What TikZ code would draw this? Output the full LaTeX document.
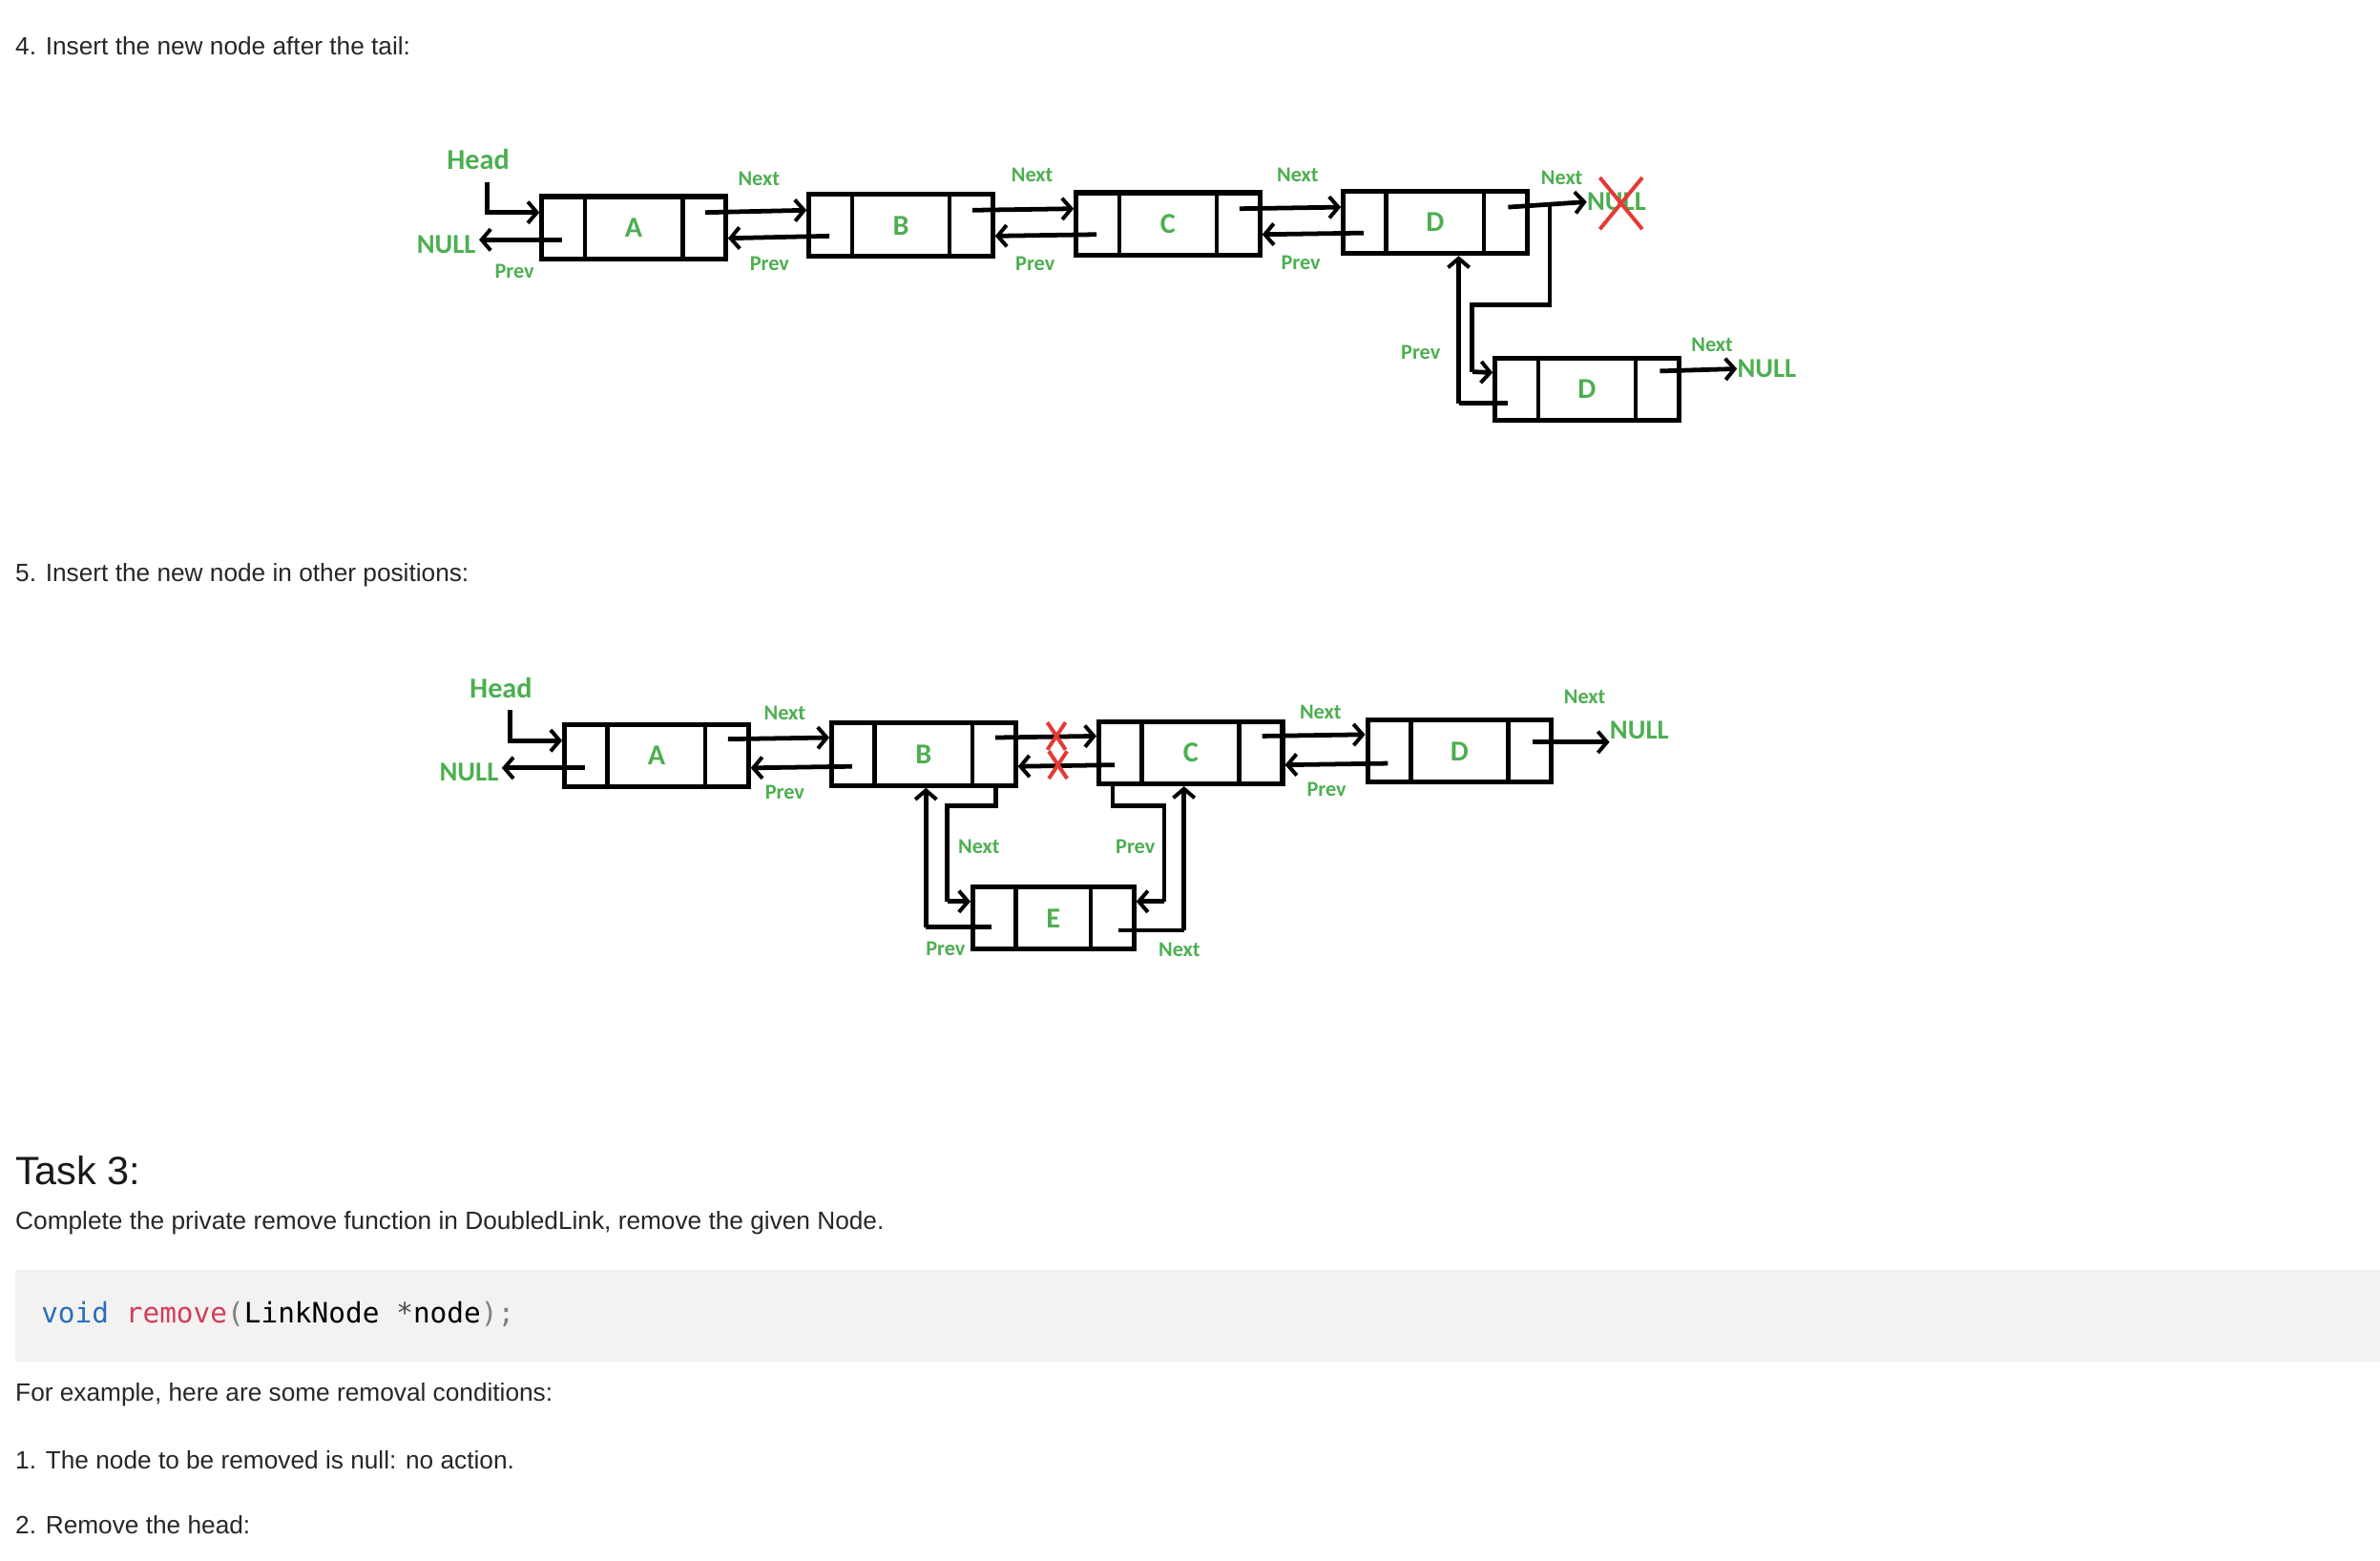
\documentclass[tikz,border=0pt]{standalone}
\usepackage{fontspec}
\setmainfont{Liberation Sans}
\newfontfamily\lab{Carlito}
\newfontfamily\codef{DejaVu Sans Mono}
\usetikzlibrary{arrows.meta,calc}
\definecolor{gr}{RGB}{76,175,80}
\definecolor{rd}{RGB}{229,57,53}
\definecolor{kwblue}{RGB}{42,110,187}
\definecolor{fnred}{RGB}{210,61,90}
\definecolor{codebg}{RGB}{243,242,241}
\tikzset{
 lbox/.style={draw,line width=3.2pt,inner sep=0pt,text=gr,font=\lab\fontsize{19}{19}\selectfont\bfseries},
 arr/.style={line width=3pt,-{Straight Barb[length=6pt,width=14pt,line width=2.5pt]}},
 ln/.style={line width=3pt},
 tg/.style={text=gr,font=\lab\fontsize{14}{14}\selectfont\bfseries,inner sep=0pt},
 tn/.style={text=gr,font=\lab\fontsize{19}{19}\selectfont\bfseries,inner sep=0pt},
 txt/.style={anchor=west,inner sep=0pt,font=\fontsize{16.5}{18}\selectfont,text=black!85},
 xr/.style={draw=rd,line width=2.5pt}
}
\newcommand\lnode[5]{%
 \node[lbox,minimum width=#5pt,minimum height=41pt] (#1) at (#2,#3) {#4};
 \draw[line width=3pt] ($(#1.north west)+(30,0)$) -- ($(#1.south west)+(30,0)$);
 \draw[line width=3pt] ($(#1.north east)+(-30,0)$) -- ($(#1.south east)+(-30,0)$);}
\newcommand\redx[3]{\draw[xr] ($(#1)+(-#2,-#3)$) -- ($(#1)+(#2,#3)$); \draw[xr] ($(#1)+(-#2,#3)$) -- ($(#1)+(#2,-#3)$);}
\begin{document}
\begin{tikzpicture}[x=1pt,y=-1pt]
\useasboundingbox (0,0) rectangle (1568,1028);
% texts
\node[txt] (t4) at (10,30) {4. Insert the new node after the tail:};
\node[txt] (t5) at (10,379) {5. Insert the new node in other positions:};
\node[txt,font=\fontsize{26}{28}\selectfont,text=black!90] (t3) at (10,771) {Task 3:};
\node[txt] (tc) at (10,806) {Complete the private remove function in DoubledLink, remove the given Node.};
\fill[codebg] (10,837) rectangle (1568,897);
\node[anchor=west,inner sep=0pt,font=\codef\fontsize{18.5}{20}\selectfont] (code) at (27,866) {\textcolor{kwblue}{void} \textcolor{fnred}{remove}\textcolor{black!50}{(}LinkNode \textcolor{black!70}{*}node\textcolor{black!50}{);}};
\node[txt] (te) at (10,919) {For example, here are some removal conditions:};
\node[txt] (t1) at (10,962) {1. The node to be removed is null: no action.};
\node[txt] (t2) at (10,1005) {2. Remove the head:};
% ===== diagram 1
\lnode{A}{417.5}{150}{A}{121}
\lnode{B}{593.5}{148.5}{B}{121}
\lnode{C}{769.5}{147.5}{C}{121}
\lnode{D}{945.5}{146.5}{D}{121}
\lnode{E}{1045.5}{256.5}{D}{121}
\node[tn] (h1) at (315,105) {Head};
\node[tn,font=\lab\fontsize{18}{18}\selectfont\bfseries] (n1) at (294,161) {NULL};
\coordinate (h1a) at (321,120);
\draw[arr] (h1a) |- ($(A.west)+(0,-10)$);
\draw[arr] ($(A.west)+(15,8)$) -- ($(n1.east)+(2,-3)$);
\node[tg] at (339,179) {Prev};
\foreach \p/\q/\nx/\ny/\px/\py in {A/B/500/118/507/174, B/C/680/115/682/174, C/D/855/115/857/173}{
 \draw[arr] ($(\p.east)+(-15,-10)$) -- ($(\q.west)+(0,-10)$);
 \draw[arr] ($(\q.west)+(15,7)$) -- ($(\p.east)+(0,7)$);
 \node[tg] at (\nx,\ny) {Next};
 \node[tg] at (\px,\py) {Prev};}
\node[tn,font=\lab\fontsize{18}{18}\selectfont\bfseries] (n2) at (1065,133) {NULL};
\draw[arr] ($(D.east)+(-14,-10)$) -- (n2.west);
\redx{1068,134}{14}{17}
\node[tg] at (1029,117) {Next};
\coordinate (d1) at (1021,136);
\draw[ln] (d1) -- (1021,201) -- (970,201) -- (970,245);
\draw[arr] (970,245) -- ($(E.west)+(0,-11)$);
\draw[ln] ($(E.west)+(10,9)$) -- (961,265.5);
\draw[arr] (961,266) -- (D.south -| 961,0);
\node[tg] at (936,232) {Prev};
\node[tn,font=\lab\fontsize{18}{18}\selectfont\bfseries] (n3) at (1164,243) {NULL};
\draw[arr] ($(E.east)+(-14,-12)$) -- (n3.west);
\node[tg] at (1128,227) {Next};
% ===== diagram 2
\lnode{A2}{432.5}{498}{A}{121}
\lnode{B2}{608.5}{497}{B}{121}
\lnode{C2}{784.5}{496}{C}{121}
\lnode{D2}{961.5}{495}{D}{121}
\lnode{E2}{694}{605}{E}{106}
\node[tn] (h2) at (330,453) {Head};
\node[tn,font=\lab\fontsize{18}{18}\selectfont\bfseries] (n4) at (309,509) {NULL};
\coordinate (h2a) at (336,468);
\draw[arr] (h2a) |- ($(A2.west)+(0,-10)$);
\draw[arr] ($(A2.west)+(15,8)$) -- ($(n4.east)+(2,-3)$);
\draw[arr] ($(A2.east)+(-15,-11)$) -- ($(B2.west)+(0,-11)$);
\draw[arr] ($(B2.west)+(15,8)$) -- ($(A2.east)+(0,8)$);
\node[tg] at (517,470) {Next};
\node[tg] at (517,522) {Prev};
\draw[arr] ($(B2.east)+(-15,-11)$) -- ($(C2.west)+(0,-11)$);
\draw[arr] ($(C2.west)+(12,8)$) -- ($(B2.east)+(0,8)$);
\redx{696,485}{6}{9}
\redx{697,504}{6}{9}
\draw[arr] ($(C2.east)+(-15,-11)$) -- ($(D2.west)+(0,-11)$);
\draw[arr] ($(D2.west)+(15,8)$) -- ($(C2.east)+(0,8)$);
\node[tg] at (870,469) {Next};
\node[tg] at (874,520) {Prev};
\node[tn,font=\lab\fontsize{18}{18}\selectfont\bfseries] (n5) at (1080,481) {NULL};
\draw[arr] ($(D2.east)+(-14,-6)$) -- (n5.west |- 0,489);
\node[tg] at (1044,459) {Next};
% B <-> E
\draw[ln] (B2.south -| 656,0) -- (656,531) -- (624,531) -- (624,594);
\draw[arr] (624,594) -- (E2.west |- 0,594);
\draw[ln] ($(E2.west)+(14,6)$) -- (610,611);
\draw[arr] (610,611) -- (B2.south -| 610,0);
% C <-> E
\draw[ln] (C2.south -| 733,0) -- (733,531) -- (767,531) -- (767,594);
\draw[arr] (767,594) -- (E2.east |- 0,594);
\draw[ln] ($(E2.east)+(-12,8)$) -- (780,613);
\draw[arr] (780,613) -- (C2.south -| 780,0);
\node[tg] at (645,558) {Next};
\node[tg] at (748,558) {Prev};
\node[tg] at (623,625) {Prev};
\node[tg] at (777,626) {Next};
\end{tikzpicture}
\end{document}
